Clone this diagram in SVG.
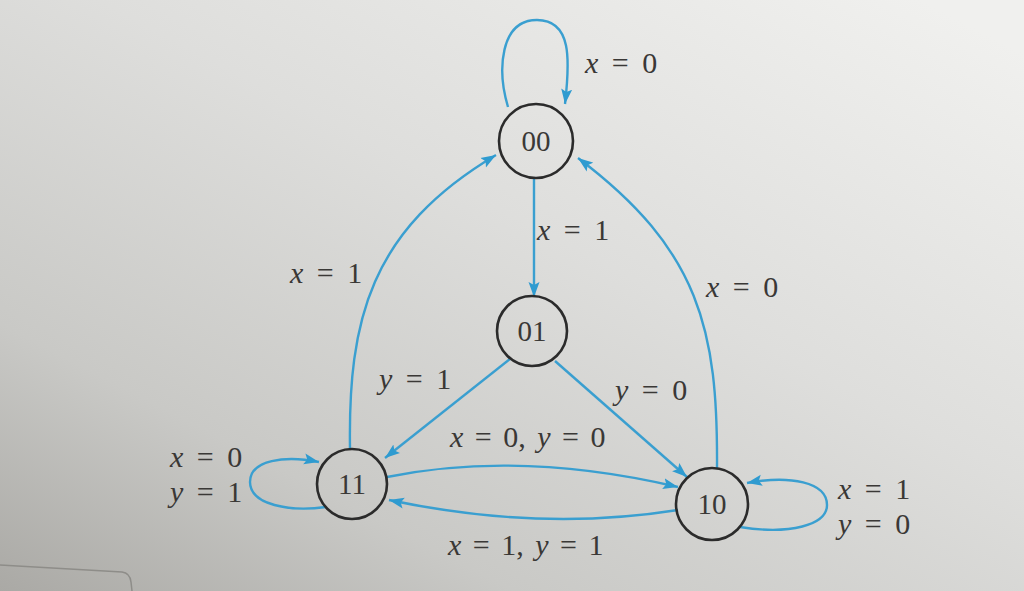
<svg xmlns="http://www.w3.org/2000/svg" width="1024" height="591" viewBox="0 0 1024 591">
<defs>
<linearGradient id="bg" x1="0.9" y1="0" x2="0" y2="1">
<stop offset="0" stop-color="#f0f0ee"/>
<stop offset="0.4" stop-color="#dededc"/>
<stop offset="0.75" stop-color="#c9c9c6"/>
<stop offset="1" stop-color="#aaa9a5"/>
</linearGradient>
<marker id="ah" markerUnits="userSpaceOnUse" markerWidth="16" markerHeight="12" refX="15" refY="6" orient="auto">
<path d="M0,0.5 L15,6 L0,11.5 L3,6 z" fill="#2f9bd0"/>
</marker>
<style>
.edge{fill:none;stroke:#3a9fd0;stroke-width:2.4;marker-end:url(#ah)}
.node{fill:none;stroke:#2b2b2b;stroke-width:2.6}
.nl{font-family:"Liberation Serif","Times New Roman","DejaVu Serif",serif;font-size:29px;fill:#3a3836;text-anchor:middle}
.lb{font-family:"Liberation Serif","Times New Roman","DejaVu Serif",serif;font-size:30px;fill:#3a3836;word-spacing:6px}
.v{font-style:italic}
</style>
</defs>
<rect width="1024" height="591" fill="url(#bg)"/>
<path d="M0 565 L122 572 Q130 573 131 582 L132 591" fill="none" stroke="#8e8d89" stroke-width="1.5"/>

<g id="connectors">
<path class="edge" d="M508 107 C497 70 500 20 537 20 C572 20 570 60 565 104"/>
<path class="edge" d="M534 179 L534 297"/>
<path class="edge" d="M350 449 C348 320 370 230 496 155"/>
<path class="edge" d="M717 468 C718 330 700 250 578 158"/>
<path class="edge" d="M510 359 L385 458"/>
<path class="edge" d="M555 361 L687 477"/>
<path class="edge" d="M387 477 Q520 450 678 487"/>
<path class="edge" d="M678 510 Q540 532 389 500"/>
<path class="edge" d="M326 507 C290 512 250 505 250 482 C250 460 285 455 319 462"/>
<path class="edge" d="M740 527 C790 535 827 525 827 505 C827 482 790 475 747 483"/>
</g>

<g id="node-00"><circle class="node" cx="536" cy="141" r="37"/><text class="nl" x="536" y="151">00</text></g>
<g id="node-01"><circle class="node" cx="532" cy="331" r="35"/><text class="nl" x="532" y="341">01</text></g>
<g id="node-11"><circle class="node" cx="352" cy="484" r="35"/><text class="nl" x="352" y="494">11</text></g>
<g id="node-10"><circle class="node" cx="712" cy="504" r="36"/><text class="nl" x="712" y="514">10</text></g>

<g id="labels">
<text class="lb" x="585" y="73"><tspan class="v">x</tspan> = 0</text>
<text class="lb" x="537" y="240"><tspan class="v">x</tspan> = 1</text>
<text class="lb" x="290" y="283"><tspan class="v">x</tspan> = 1</text>
<text class="lb" x="706" y="297"><tspan class="v">x</tspan> = 0</text>
<text class="lb" x="379" y="389"><tspan class="v">y</tspan> = 1</text>
<text class="lb" x="615" y="400"><tspan class="v">y</tspan> = 0</text>
<text class="lb" x="450" y="447" style="word-spacing:4px"><tspan class="v">x</tspan> = 0, <tspan class="v">y</tspan> = 0</text>
<text class="lb" x="448" y="555" style="word-spacing:4px"><tspan class="v">x</tspan> = 1, <tspan class="v">y</tspan> = 1</text>
<text class="lb" x="170" y="467"><tspan class="v">x</tspan> = 0</text>
<text class="lb" x="170" y="502"><tspan class="v">y</tspan> = 1</text>
<text class="lb" x="838" y="499"><tspan class="v">x</tspan> = 1</text>
<text class="lb" x="838" y="534"><tspan class="v">y</tspan> = 0</text>
</g>
</svg>
